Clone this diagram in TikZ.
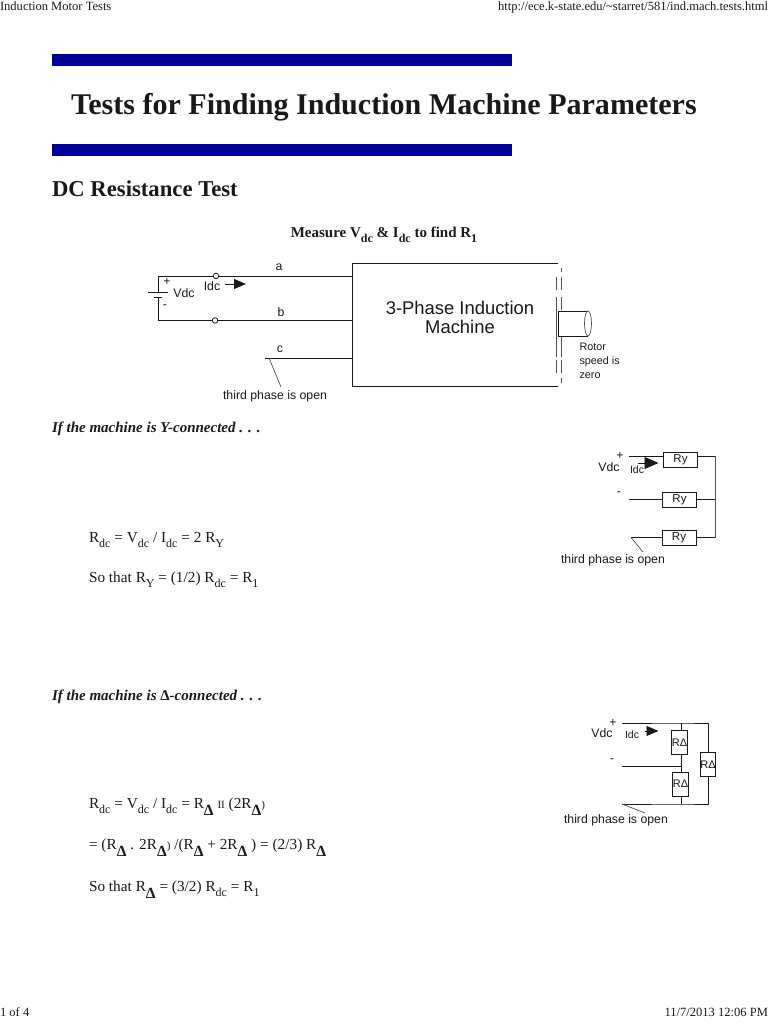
\documentclass[tikz,border=0pt]{standalone}
\usepackage{fontspec}
\setmainfont{Liberation Serif}
\newfontfamily\dia{Liberation Sans}
\usetikzlibrary{arrows.meta}
\definecolor{barblue}{RGB}{0,0,153}
\definecolor{ink}{RGB}{25,25,25}
\newcommand{\dn}[1]{\raisebox{-5pt}{\fontsize{12}{12}\selectfont #1}}
\newcommand{\dl}{\raisebox{-7pt}{\fontsize{15.5}{15}\selectfont\bfseries Δ}}
\tikzset{
  x=1pt,y=-1pt,
  every node/.style={inner sep=0pt,outer sep=0pt,text=ink},
  bar/.style={fill=barblue,draw=none},
  page/.style={anchor=base west,font=\fontsize{12.55}{13}\selectfont},
  pager/.style={anchor=base east,font=\fontsize{12.55}{13}\selectfont},
  title/.style={anchor=base west,font=\fontsize{30.05}{34}\selectfont\bfseries},
  head/.style={anchor=base west,font=\fontsize{22.7}{26}\selectfont\bfseries},
  ital/.style={anchor=base west,font=\fontsize{15}{17}\selectfont\bfseries\itshape},
  bodytx/.style={anchor=base west,font=\fontsize{15.3}{17}\selectfont},
  caption/.style={anchor=base,font=\fontsize{15}{17}\selectfont\bfseries},
  wire/.style={draw=ink,line width=0.8pt},
  thin wire/.style={draw=ink!75,line width=0.7pt},
  term/.style={circle,draw=ink,fill=white,line width=0.8pt,minimum size=5.5pt},
  lab/.style={font=\dia\fontsize{12.3}{13}\selectfont,anchor=center},
  labs/.style={font=\dia\fontsize{10.5}{11}\selectfont,anchor=center},
  resv/.style={draw=ink,fill=white,line width=0.9pt,minimum width=34pt,minimum height=15pt,font=\dia\fontsize{11.5}{12}\selectfont},
  resd/.style={draw=ink,fill=white,line width=0.9pt,minimum width=15pt,minimum height=24pt,font=\dia\fontsize{11}{12}\selectfont},
  head arrow/.style={-{Triangle[length=12pt,width=10pt]},draw=ink,line width=0.8pt},
  big arrow/.style={-{Triangle[length=14pt,width=12pt]},draw=ink,line width=0.8pt},
}
\begin{document}
\begin{tikzpicture}
\useasboundingbox (0,0) rectangle (768,1024);
% page furniture
\node[page] (ph) at (0,11) {Induction Motor Tests};
\node[pager] (pu) at (768,11) {http://ece.k-state.edu/\textasciitilde starret/581/ind.mach.tests.html};
\node[page] (pf) at (0,1016) {1 of 4};
\node[pager] (pd) at (768,1016) {11/7/2013 12:06 PM};
\fill[bar] (52,54) rectangle (512,66);
\fill[bar] (52,144) rectangle (512,156);
\node[title] (t) at (71,115) {Tests for Finding Induction Machine Parameters};
\node[head] (h) at (52,197) {DC Resistance Test};
\node[caption] (cap) at (384,237) {Measure V\dn{dc} \& I\dn{dc} to find R\dn{1}};
% main circuit
\coordinate (ma) at (352,276); \coordinate (mb) at (352,320.5); \coordinate (mc) at (352,358);
\coordinate (cfree) at (265,358); \coordinate (cl1) at (269,358); \coordinate (cl2) at (281,387);
\coordinate (bt) at (158,276); \coordinate (bb) at (158,320.5);
\node[term] (ta) at (216,276) {};
\node[term] (tb) at (215,320.5) {};
\draw[wire] (bt) -- (ta) -- (ma);
\draw[wire] (bb) -- (tb) -- (mb);
\draw[wire] (cfree) -- (mc);
\draw[thin wire] (cl1) -- (cl2);
\draw[wire] (bt) -- (158,292) (148,292) -- (168,292);
\draw[wire] (154,297) -- (162,297) (158,297) -- (bb);
\draw[head arrow] (225,284) -- (246,284);
\node[lab] (la) at (279,267) {a};
\node[lab] (lb) at (281,312) {b};
\node[lab] (lc) at (280,349) {c};
\node[lab] (lp) at (167,282) {+};
\node[lab] (lm) at (165,307) {-};
\node[lab] (lv) at (184,293) {Vdc};
\node[lab] (li) at (212,286) {Idc};
\node[lab] (lo) at (275,396) {third phase is open};
\draw[wire] (352,263) -- (558,263) (352,263) -- (352,386) -- (558,386);
\draw[wire] (352,263) -- (ma) -- (mb) -- (mc);
\draw[thin wire] (556,277) -- (556,290) (556,297) -- (556,357) (556,360) -- (556,373);
\draw[thin wire] (561,268) -- (561,272) (561,277) -- (561,290) (561,297) -- (561,310)
  (561,337) -- (561,357) (561,360) -- (561,373) (561,378) -- (561,383);
\draw[wire] (588,311) -- (558,311) -- (558,336) -- (588,336);
\draw[thin wire] (588,323.5) ellipse [x radius=3.5,y radius=12.5];
\node[font=\dia\fontsize{18.4}{19.5}\selectfont,align=center,anchor=center] (mach) at (460,317.5) {3-Phase Induction\\Machine};
\node[labs,align=left,anchor=north west,font=\dia\fontsize{10.8}{13.6}\selectfont] (rot) at (579.5,343.5) {Rotor\\speed is\\zero};
% Y text
\node[ital] (yi) at (52,432) {If the machine is Y-connected . . .};
\node[bodytx] (y1) at (89,542) {R\dn{dc} = V\dn{dc} / I\dn{dc} = 2 R\dn{Y}};
\node[bodytx] (y2) at (89,582) {So that R\dn{Y} = (1/2) R\dn{dc} = R\dn{1}};
% Y circuit
\node[resv] (ry1) at (680.5,459.5) {Ry};
\node[resv] (ry2) at (679.5,499.5) {Ry};
\node[resv] (ry3) at (679,537.5) {Ry};
\coordinate (yf1) at (629,456); \coordinate (yf2) at (629,499.5); \coordinate (yf3) at (631,537.5);
\coordinate (yj1) at (715,456); \coordinate (yj2) at (715,499.5); \coordinate (yj3) at (715,537.5);
\coordinate (yl) at (643,552);
\draw[wire] (yf1) -- (ry1.west |- yf1) (ry1.east |- yj1) -- (yj1);
\draw[wire] (yf2) -- (ry2) (ry2) -- (yj2);
\draw[wire] (yf3) -- (ry3) (ry3) -- (yj3);
\draw[thin wire] (yj1) -- (yj3);
\draw[thin wire] (yf3) -- (yl);
\draw[big arrow] (638,463) -- (658.5,463);
\node[lab] (yp) at (620,456) {+};
\node[lab] (ym) at (619,494) {-};
\node[lab] (yv) at (609,467) {Vdc};
\node[labs] (yi2) at (637,470) {Idc};
\node[lab,anchor=west] (yo) at (561,560) {third phase is open};
% Delta text
\node[ital] (di) at (52,700) {If the machine is {\upshape Δ}-connected . . .};
\node[bodytx] (d1) at (89,808) {R\dn{dc} = V\dn{dc} / I\dn{dc} = R\dl{} {\fontsize{11}{12}\selectfont II} (2R\dl{\fontsize{11}{12}\selectfont )}};
\node[bodytx] (d2) at (89,849) {= (R\dl{} . 2R\dl{\fontsize{11}{12}\selectfont )} /(R\dl{} + 2R\dl{} ) = (2/3) R\dl};
\node[bodytx] (d3) at (89,891) {So that R\dl{} = (3/2) R\dn{dc} = R\dn{1}};
% Delta circuit
\coordinate (df1) at (622,723); \coordinate (df2) at (622,766); \coordinate (df3) at (622,804);
\coordinate (dt1) at (681,723); \coordinate (dt2) at (708,723);
\coordinate (db1) at (681,804); \coordinate (db2) at (708,804);
\coordinate (dm) at (681,766); \coordinate (dl2) at (645,813);
\node[resd] (ra) at (679.5,742.5) {RΔ};
\node[resd] (rb) at (680.5,784) {RΔ};
\node[resd] (rc) at (708,764.5) {RΔ};
\draw[wire] (df1) -- (dt1) -- (dt2) -- (rc) -- (db2) -- (db1) -- (df3);
\draw[wire] (dt1) -- (dt1 |- ra.north) (dt1 |- ra.south) -- (dm) -- (dm |- rb.north) (dm |- rb.south) -- (db1);
\draw[wire] (df2) -- (dm);
\draw[thin wire] (df3) -- (dl2);
\draw[head arrow] (645,731) -- (658.5,731);
\node[lab] (dp) at (613,723) {+};
\node[lab] (dm2) at (612,761) {-};
\node[lab] (dv) at (602,733) {Vdc};
\node[labs] (di2) at (632,735) {Idc};
\node[lab,anchor=west] (dob) at (564,820) {third phase is open};
\end{tikzpicture}
\end{document}
